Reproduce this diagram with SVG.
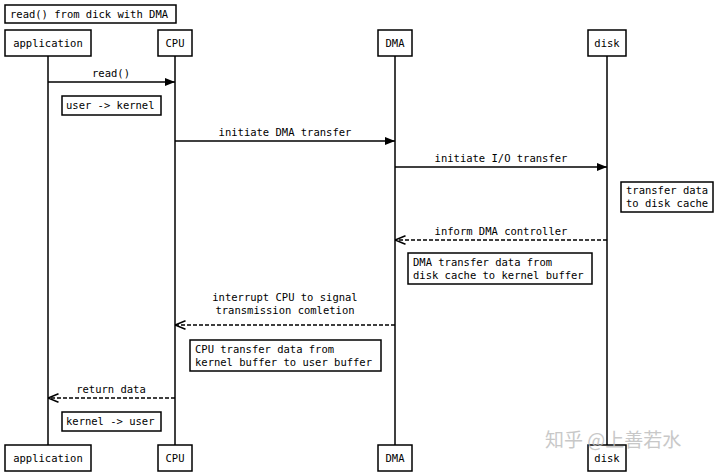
<svg xmlns="http://www.w3.org/2000/svg" width="720" height="475" viewBox="0 0 720 475">
<style>
text{font-family:"DejaVu Sans Mono","Liberation Mono",monospace;font-size:10.5px;fill:#000}
.b{fill:#fff;stroke:#000;stroke-width:1.5}
.l{stroke:#000;stroke-width:1.5;fill:none}
.d{stroke-dasharray:4,2}
.m{text-anchor:middle}
</style>
<defs>
<marker id="a" viewBox="0 0 10 10" refX="10" refY="5" markerWidth="7" markerHeight="7" orient="auto"><path d="M0,1L10,5L0,9z" fill="#000"/></marker>
<marker id="o" viewBox="0 0 10 10" refX="10" refY="5" markerWidth="7" markerHeight="7" orient="auto"><path d="M0,1L10,5L0,9" fill="none" stroke="#000" stroke-width="1.5"/></marker>
</defs>
<rect width="720" height="475" fill="#fff"/>
<g id="lifelines">
<line class="l" x1="48" y1="56" x2="48" y2="445"/>
<line class="l" x1="175" y1="56" x2="175" y2="445"/>
<line class="l" x1="395" y1="56" x2="395" y2="445"/>
<line class="l" x1="607" y1="56" x2="607" y2="445"/>
</g>
<g id="title"><rect class="b" x="5" y="5" width="171" height="18"/><text x="10" y="18">read() from dick with DMA</text></g>
<g id="app-top"><rect class="b" x="5" y="30" width="86" height="26"/><text class="m" x="48" y="47">application</text></g>
<g id="cpu-top"><rect class="b" x="158" y="30" width="34" height="26"/><text class="m" x="175" y="47">CPU</text></g>
<g id="dma-top"><rect class="b" x="378" y="30" width="34" height="26"/><text class="m" x="395" y="47">DMA</text></g>
<g id="disk-top"><rect class="b" x="588" y="30" width="38" height="26"/><text class="m" x="607" y="47">disk</text></g>
<g id="app-bot"><rect class="b" x="5" y="445" width="86" height="26"/><text class="m" x="48" y="462">application</text></g>
<g id="cpu-bot"><rect class="b" x="158" y="445" width="34" height="26"/><text class="m" x="175" y="462">CPU</text></g>
<g id="dma-bot"><rect class="b" x="378" y="445" width="34" height="26"/><text class="m" x="395" y="462">DMA</text></g>
<g id="disk-bot"><rect class="b" x="588" y="445" width="38" height="26"/><text class="m" x="607" y="462">disk</text></g>
<g id="connectors">
<line class="l" x1="48" y1="82" x2="175" y2="82" marker-end="url(#a)"/>
<text class="m" x="111" y="77">read()</text>
<line class="l" x1="175" y1="141" x2="395" y2="141" marker-end="url(#a)"/>
<text class="m" x="285" y="136">initiate DMA transfer</text>
<line class="l" x1="395" y1="167" x2="607" y2="167" marker-end="url(#a)"/>
<text class="m" x="501" y="162">initiate I/O transfer</text>
<line class="l d" x1="607" y1="240" x2="395" y2="240" marker-end="url(#o)"/>
<text class="m" x="501" y="235">inform DMA controller</text>
<line class="l d" x1="395" y1="325" x2="175" y2="325" marker-end="url(#o)"/>
<text class="m" x="285" y="301">interrupt CPU to signal</text>
<text class="m" x="285" y="314">transmission comletion</text>
<line class="l d" x1="175" y1="398" x2="48" y2="398" marker-end="url(#o)"/>
<text class="m" x="111" y="393">return data</text>
</g>
<g id="n1"><rect class="b" x="62" y="96" width="99" height="19"/><text x="66" y="109">user -&gt; kernel</text></g>
<g id="n2"><rect class="b" x="621" y="182" width="92" height="30"/><text x="626" y="194">transfer data</text><text x="626" y="207">to disk cache</text></g>
<g id="n3"><rect class="b" x="408" y="253" width="184" height="31"/><text x="413" y="266">DMA transfer data from</text><text x="413" y="279">disk cache to kernel buffer</text></g>
<g id="n4"><rect class="b" x="190" y="340" width="191" height="31"/><text x="195" y="353">CPU transfer data from</text><text x="195" y="366">kernel buffer to user buffer</text></g>
<g id="n5"><rect class="b" x="62" y="412" width="99" height="19"/><text x="66" y="425">kernel -&gt; user</text></g>
<text x="545" y="447" style="font-family:'Noto Sans CJK SC',sans-serif;font-size:19px;fill:#bbb;opacity:0.8">知乎 @上善若水</text>
</svg>
